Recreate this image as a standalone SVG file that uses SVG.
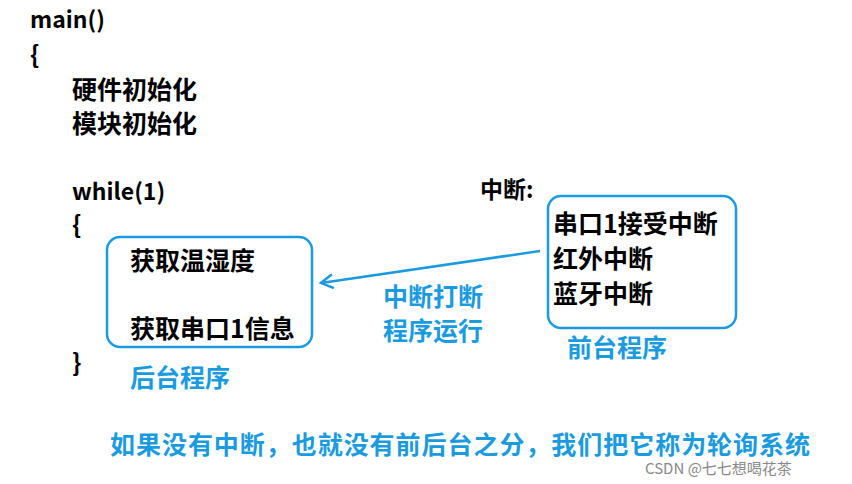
<svg xmlns="http://www.w3.org/2000/svg" width="852" height="484" viewBox="0 0 852 484">
<style>
text{font-family:"Noto Sans CJK SC","Liberation Sans",sans-serif;font-weight:bold;font-size:25px;fill:#000}
.b{fill:#1a9be0}
.box{fill:none;stroke:#1a9be0;stroke-width:2.5}
</style>
<defs><marker id="ah" markerWidth="16" markerHeight="16" refX="13" refY="8" orient="auto" markerUnits="userSpaceOnUse"><path d="M1,1 L13,8 L1,15" fill="none" stroke="#1a9be0" stroke-width="2.5"/></marker></defs>
<rect width="852" height="484" fill="#fff"/>
<g id="code">
<text x="30" y="28" style="font-size:23px">main()</text>
<text x="30" y="64">{</text>
<text x="72" y="99">硬件初始化</text>
<text x="72" y="133">模块初始化</text>
<text x="72" y="200" style="font-size:23px">while(1)</text>
<text x="72" y="234">{</text>
<text x="72" y="372">}</text>
<text x="480" y="198" style="font-size:23px">中断:</text>
</g>
<g id="background">
<rect class="box" x="107" y="237" width="205" height="110" rx="13"/>
<text x="130" y="270">获取温湿度</text>
<text x="130" y="338">获取串口1信息</text>
<text class="b" x="130" y="387">后台程序</text>
</g>
<g id="foreground">
<rect class="box" x="548" y="196" width="188" height="132" rx="13"/>
<text x="553" y="233">串口1接受中断</text>
<text x="553" y="268">红外中断</text>
<text x="553" y="303">蓝牙中断</text>
<text class="b" x="567" y="357">前台程序</text>
</g>
<g id="connectors">
<line x1="540" y1="251" x2="321" y2="283" stroke="#1a9be0" stroke-width="2.5" marker-end="url(#ah)"/>
</g>
<text class="b" x="383" y="306">中断打断</text>
<text class="b" x="383" y="340">程序运行</text>
<text class="b" x="110" y="454" textLength="700">如果没有中断，也就没有前后台之分，我们把它称为轮询系统</text>
<text x="645" y="474" style="font-weight:normal;font-size:15px;fill:#888">CSDN @七七想喝花茶</text>
</svg>
